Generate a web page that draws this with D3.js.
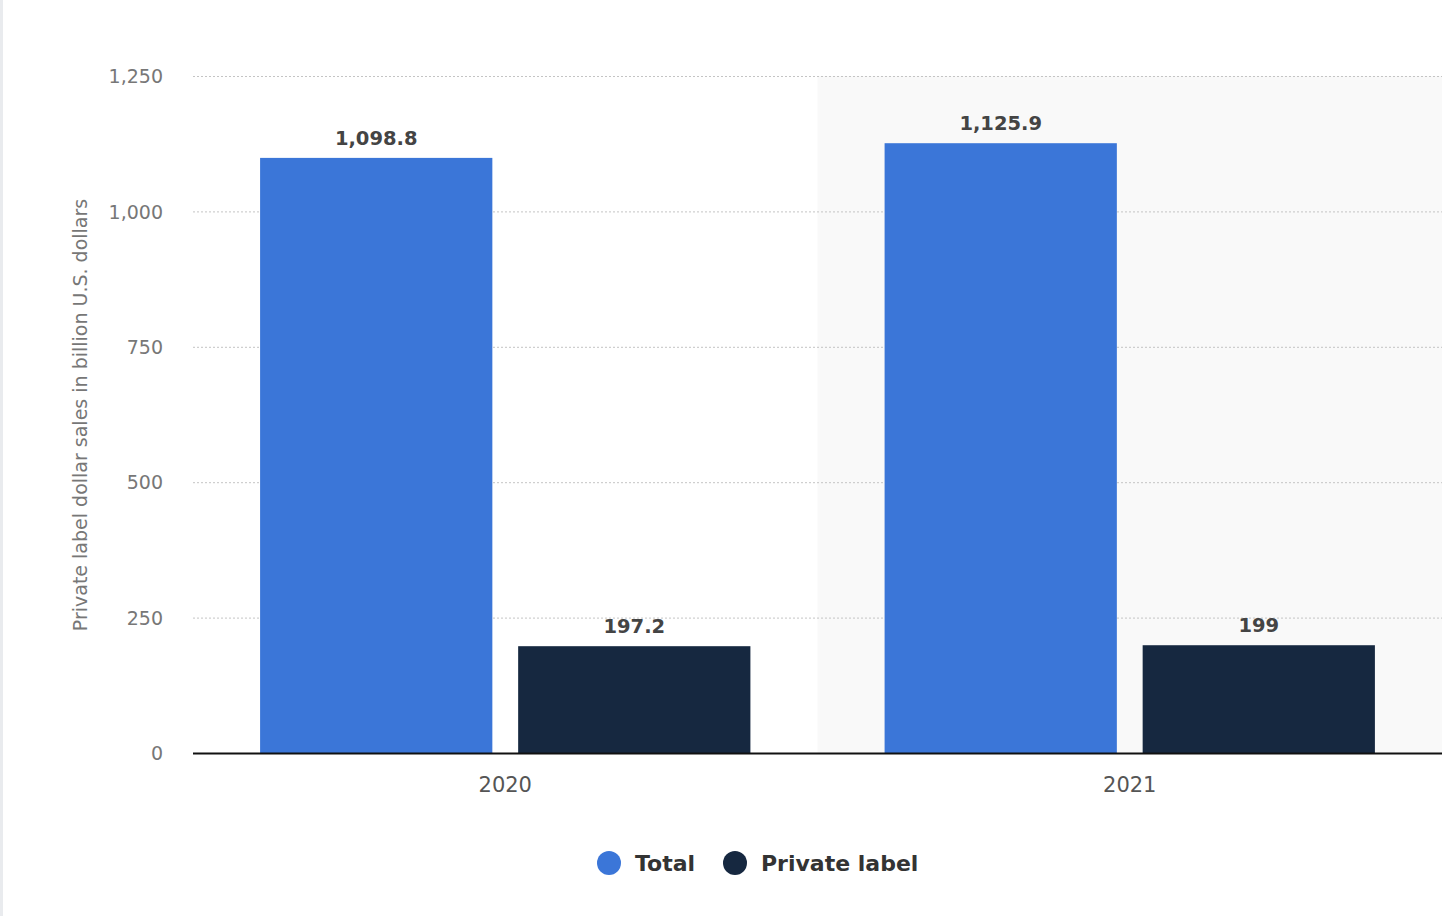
<!DOCTYPE html>
<html>
<head>
<meta charset="utf-8">
<script src="https://cdn.jsdelivr.net/npm/d3@7"></script>
<style>
  html, body { margin: 0; padding: 0; background: #fff; }
  body { width: 1442px; height: 916px; overflow: hidden; }
  text { font-family: "DejaVu Sans", "Open Sans", sans-serif; }
</style>
</head>
<body>
<div id="chart-area"></div>
<script>
var years = ["2020", "2021"];
var seriesNames = ["Total", "Private label"];
var totalSales = [1098.8, 1125.9];
var privateSales = [197.2, 199];
var labelText = [["1,098.8", "197.2"], ["1,125.9", "199"]];
var yTicks = [0, 250, 500, 750, 1000, 1250];
var colors = ["#3b76d8", "#162840"];

var W = 1442, H = 916;
var margin = { left: 193, right: 0, top: 76, bottom: 163 };
var width = W - margin.left - margin.right,
    height = H - margin.top - margin.bottom;

var svg = d3.select("#chart-area")
    .append("svg")
        .attr("width", W)
        .attr("height", H);

// thin grey edge on the left of the page
svg.append("rect")
    .attr("x", 0).attr("y", 0)
    .attr("width", 3).attr("height", H)
    .attr("fill", "#e9ebee");

var g = svg.append("g")
    .attr("transform", "translate(" + margin.left + "," + margin.top + ")");

// Scales
var x0 = d3.scaleBand()
    .domain(years)
    .range([0, width]);
var x1 = d3.scaleBand()
    .domain(seriesNames)
    .range([0, x0.bandwidth()])
    .paddingInner(0.1)
    .paddingOuter(0.26);
var y = d3.scaleLinear()
    .domain([0, 1250])
    .range([height, 0]);
var color = d3.scaleOrdinal().domain(seriesNames).range(colors);

// highlighted band for 2021
g.append("rect")
    .attr("x", x0("2021"))
    .attr("y", 0)
    .attr("width", x0.bandwidth())
    .attr("height", height)
    .attr("fill", "#f9f9f9");

// Grid lines
g.selectAll(".grid")
    .data(yTicks.filter(function(d){ return d > 0; }))
    .enter().append("line")
        .attr("class", "grid")
        .attr("x1", 0)
        .attr("x2", width)
        .attr("y1", function(d){ return y(d) + 0.5; })
        .attr("y2", function(d){ return y(d) + 0.5; })
        .attr("stroke", "#c4c4c4")
        .attr("stroke-width", 1)
        .attr("stroke-dasharray", "2,2");

// Y axis labels
var yAxisCall = d3.axisLeft(y)
    .tickValues(yTicks)
    .tickSize(0)
    .tickPadding(30)
    .tickFormat(d3.format(","));
var yAxis = g.append("g")
    .attr("class", "y axis")
    .call(yAxisCall);
yAxis.select(".domain").remove();
yAxis.selectAll("text")
    .attr("fill", "#777")
    .attr("font-size", "19px")
    .attr("dy", "0.35em");

var yLabel = svg.append("text")
    .attr("transform", "rotate(-90)")
    .attr("y", 87)
    .attr("x", -415)
    .attr("font-size", "19px")
    .attr("fill", "#777")
    .attr("text-anchor", "middle")
    .text("Private label dollar sales in billion U.S. dollars");

// Bars
var rows = years.map(function(yr, i){
    return [
        { year: yr, name: seriesNames[0], value: totalSales[i], label: labelText[i][0] },
        { year: yr, name: seriesNames[1], value: privateSales[i], label: labelText[i][1] }
    ];
});

var groups = g.selectAll(".year-group")
    .data(rows)
    .enter().append("g")
        .attr("class", "year-group")
        .attr("transform", function(d){ return "translate(" + x0(d[0].year) + ",0)"; });

groups.selectAll("rect")
    .data(function(d){ return d; })
    .enter().append("rect")
        .attr("x", function(d){ return x1(d.name); })
        .attr("y", function(d){ return y(d.value); })
        .attr("width", x1.bandwidth())
        .attr("height", function(d){ return height - y(d.value); })
        .attr("fill", function(d){ return color(d.name); });

groups.selectAll(".value")
    .data(function(d){ return d; })
    .enter().append("text")
        .attr("class", "value")
        .attr("x", function(d){ return x1(d.name) + x1.bandwidth() / 2; })
        .attr("y", function(d){ return y(d.value) - 13; })
        .attr("text-anchor", "middle")
        .attr("font-size", "19.5px")
        .attr("font-weight", "bold")
        .attr("fill", "#444")
        .text(function(d){ return d.label; });

// X axis
var xAxisCall = d3.axisBottom(x0)
    .tickSize(0)
    .tickPadding(24);
var xAxis = g.append("g")
    .attr("class", "x axis")
    .attr("transform", "translate(0," + height + ")")
    .call(xAxisCall);
xAxis.select(".domain").remove();
xAxis.selectAll("text")
    .attr("fill", "#555")
    .attr("font-size", "21px");
g.append("line")
    .attr("x1", 0).attr("x2", width)
    .attr("y1", height + 0.5).attr("y2", height + 0.5)
    .attr("stroke", "#111")
    .attr("stroke-width", 2);

// Legend
var legendX = [609, 735];
var legend = svg.append("g");
seriesNames.forEach(function(name, i){
    var row = legend.append("g")
        .attr("transform", "translate(" + legendX[i] + ",863)");
    row.append("circle")
        .attr("r", 12)
        .attr("fill", color(name));
    row.append("text")
        .attr("x", 26)
        .attr("y", 0)
        .attr("dy", "0.35em")
        .attr("font-size", "22px")
        .attr("font-weight", "bold")
        .attr("fill", "#333")
        .text(name);
});
</script>
</body>
</html>
